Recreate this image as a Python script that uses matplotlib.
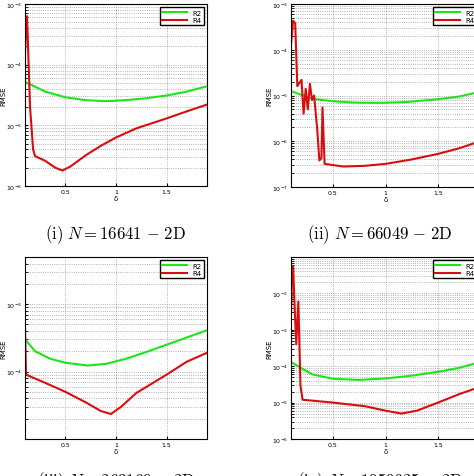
import numpy as np
import matplotlib
matplotlib.use("Agg")
import matplotlib.pyplot as plt
plt.rcParams['mathtext.fontset'] = 'cm'

# panel 1
x1_g = [0.1, 0.3, 0.5, 0.7, 0.9, 1.1, 1.3, 1.5, 1.7, 1.9]
y1_g = [5.2e-5, 3.6e-5, 2.9e-5, 2.6e-5, 2.5e-5, 2.6e-5, 2.8e-5, 3.1e-5, 3.6e-5, 4.4e-5]
x1_r = [0.1, 0.11, 0.12, 0.13, 0.15, 0.18, 0.2, 0.3, 0.4, 0.47, 0.55, 0.7, 0.85, 1.0, 1.2, 1.5, 1.7, 1.9]
y1_r = [1.5e-4, 4e-4, 6.3e-4, 2e-4, 2e-5, 4e-6, 3.1e-6, 2.6e-6, 2.0e-6, 1.8e-6, 2.1e-6, 3.2e-6, 4.6e-6, 6.3e-6, 8.9e-6, 1.3e-5, 1.7e-5, 2.2e-5]
# panel 2
x2_g = [0.1, 0.3, 0.5, 0.7, 0.95, 1.2, 1.5, 1.7, 1.9]
y2_g = [1.25e-5, 8.5e-6, 7.5e-6, 7.0e-6, 6.9e-6, 7.2e-6, 8.3e-6, 9.5e-6, 1.2e-5]
x2_r = [0.1, 0.12, 0.14, 0.16, 0.2, 0.22, 0.24, 0.26, 0.28, 0.3, 0.32, 0.35, 0.37, 0.39, 0.4, 0.42, 0.6, 0.8, 1.0, 1.25, 1.5, 1.7, 1.9]
y2_r = [1.3e-4, 4.3e-4, 3.8e-4, 1.6e-5, 2.2e-5, 4e-6, 1.4e-5, 5e-6, 1.8e-5, 8e-6, 1e-5, 1.8e-6, 3.8e-7, 4.3e-7, 5.5e-6, 3.2e-7, 2.8e-7, 2.9e-7, 3.2e-7, 4e-7, 5.3e-7, 7e-7, 1e-6]
# panel 3
x3_g = [0.1, 0.2, 0.35, 0.5, 0.72, 0.9, 1.1, 1.3, 1.5, 1.7, 1.9]
y3_g = [3.0e-4, 2.0e-4, 1.55e-4, 1.35e-4, 1.23e-4, 1.3e-4, 1.55e-4, 1.95e-4, 2.5e-4, 3.2e-4, 4.1e-4]
x3_r = [0.1, 0.11, 0.3, 0.5, 0.7, 0.85, 0.95, 1.05, 1.2, 1.5, 1.7, 1.9]
y3_r = [4.7e-4, 9.0e-5, 6.8e-5, 5.0e-5, 3.5e-5, 2.6e-5, 2.35e-5, 3.0e-5, 4.8e-5, 9.0e-5, 1.4e-4, 1.9e-4]
# panel 4
x4_g = [0.1, 0.3, 0.5, 0.75, 1.0, 1.25, 1.5, 1.7, 1.9]
y4_g = [1.3e-4, 6e-5, 4.5e-5, 4.2e-5, 4.6e-5, 5.5e-5, 7e-5, 9e-5, 1.3e-4]
x4_r = [0.1, 0.11, 0.12, 0.14, 0.15, 0.17, 0.19, 0.21, 0.5, 0.8, 1.0, 1.15, 1.3, 1.5, 1.7, 1.9]
y4_r = [2.3e-3, 5.5e-2, 5.5e-2, 1.8e-3, 4e-4, 6e-3, 3e-5, 1.2e-5, 1.0e-5, 8e-6, 6e-6, 5e-6, 6e-6, 1e-5, 1.7e-5, 2.7e-5]

captions = [r"$\mathrm{(i)}\ N = 16641\ \mathrm{-\ 2D}$",
            r"$\mathrm{(ii)}\ N = 66049\ \mathrm{-\ 2D}$",
            r"$\mathrm{(iii)}\ N = 263169\ \mathrm{-\ 2D}$",
            r"$\mathrm{(iv)}\ N = 1050625\ \mathrm{-\ 2D}$"]
ylims = [(1e-6, 1e-3), (1e-7, 1e-3), (1e-5, 5e-3), (1e-6, 1e-1)]
yticks = [[1e-6, 1e-5, 1e-4, 1e-3], [1e-7, 1e-6, 1e-5, 1e-4, 1e-3],
          [1e-4, 1e-3], [1e-6, 1e-5, 1e-4, 1e-3, 1e-2]]
data = [(x1_g, y1_g, x1_r, y1_r), (x2_g, y2_g, x2_r, y2_r),
        (x3_g, y3_g, x3_r, y3_r), (x4_g, y4_g, x4_r, y4_r)]
rects = [(25, 5, 207, 187), (291, 5, 480, 188), (25, 258, 207, 440), (291, 258, 480, 440)]
cap_x = [116, 380, 116, 380]
cap_y = [235, 235, 482, 482]

W, H = 474, 477
fig = plt.figure(figsize=(W/100, H/100), dpi=100)
for i in range(4):
    l, t, r, b = rects[i]
    ax = fig.add_axes([l/W, 1-b/H, (r-l)/W, (b-t)/H])
    xg, yg, xr, yr = data[i]
    ax.semilogy(xg, yg, color=(0.1, 0.9, 0.1), lw=1.5, label="R2")
    ax.semilogy(xr, yr, color=(0.85, 0.05, 0.05), lw=1.5, label="R4")
    ax.set_xlim(0.1, 1.9)
    ax.set_ylim(*ylims[i])
    ax.set_yticks(yticks[i])
    ax.set_xticks([0.5, 1, 1.5])
    ax.set_xticklabels(["0.5", "1", "1.5"])
    ax.grid(True, which="both", ls=":", color="#999999", lw=0.6)
    ax.tick_params(labelsize=4.5, length=2, which="both", direction="in", pad=2)
    ax.set_xlabel("δ", fontsize=5, labelpad=1)
    ax.set_ylabel("RMSE", fontsize=5, labelpad=0)
    ax.legend(loc="upper right", fontsize=5, fancybox=False, framealpha=1,
              edgecolor="black", handlelength=3.5, borderpad=0.3, labelspacing=0.2)
    fig.text(cap_x[i]/W, 1 - cap_y[i]/H, captions[i], ha="center", va="center", fontsize=12)
fig.savefig("out.png", dpi=100)
